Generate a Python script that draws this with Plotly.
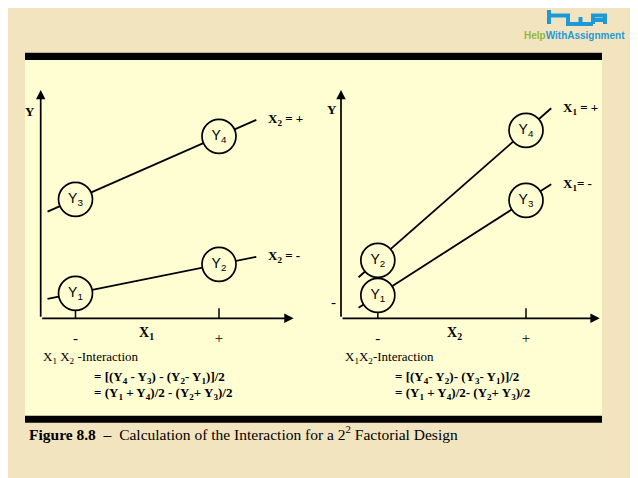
import plotly.graph_objects as go

# Factor levels on the horizontal axes
levels = [-1, 1]
level_text = ['-', '+']

# Left drawing: X1 along the axis, one line per X2 level
left_minus = [25, 54]     # Y1, Y2  (X2 = -)
left_plus = [119, 182]    # Y3, Y4  (X2 = +)
left_minus_names = ['Y<sub>1</sub>', 'Y<sub>2</sub>']
left_plus_names = ['Y<sub>3</sub>', 'Y<sub>4</sub>']

# Right drawing: X2 along the axis, one line per X1 level
right_minus = [23, 118]   # Y1, Y3  (X1 = -)
right_plus = [58, 188]    # Y2, Y4  (X1 = +)
right_minus_names = ['Y<sub>1</sub>', 'Y<sub>3</sub>']
right_plus_names = ['Y<sub>2</sub>', 'Y<sub>4</sub>']

# the page body has an 8px margin, so the figure is a bit smaller and everything shifts
OFF = 8
W, H = 638 - OFF, 478 - OFF
PANEL = '#fffdd2'
OUTER = '#f2e4bf'


def X(p):
    return (p - OFF) / W


def Y(p):
    return 1 - (p - OFF) / H


def extend(ys, lo, hi):
    # carry the line a little past both points, like the hand drawing
    slope = (ys[1] - ys[0]) / 2
    return [-1 - lo, 1 + hi], [ys[0] - slope * lo, ys[1] + slope * hi]


fig = go.Figure()

panels = [
    ('x', 'y', left_minus, left_plus, left_minus_names, left_plus_names, 0.39, 0.52,
     'X<sub>2</sub> = -', 'X<sub>2</sub> = +'),
    ('x2', 'y2', right_minus, right_plus, right_minus_names, right_plus_names, 0.26, 0.34,
     'X<sub>1</sub>= -', 'X<sub>1</sub> = +'),
]

annotations = []
shapes = [dict(type='rect', xref='paper', yref='paper', x0=X(25), x1=X(602), y0=Y(422.7), y1=Y(52.7),
               fillcolor=PANEL, line_width=0, layer='below'),
          dict(type='rect', xref='paper', yref='paper', x0=X(25), x1=X(602), y0=Y(60), y1=Y(52.7),
               fillcolor='black', line_width=0, layer='below'),
          dict(type='rect', xref='paper', yref='paper', x0=X(25), x1=X(602), y0=Y(422.7), y1=Y(415.7),
               fillcolor='black', line_width=0, layer='below')]

for xa, ya, lo_vals, hi_vals, lo_names, hi_names, e_lo, e_hi, lo_lab, hi_lab in panels:
    for vals, names, lab in [(lo_vals, lo_names, lo_lab), (hi_vals, hi_names, hi_lab)]:
        lx, ly = extend(vals, e_lo, e_hi)
        fig.add_trace(go.Scatter(x=lx, y=ly, mode='lines', xaxis=xa, yaxis=ya,
                                 line=dict(color='black', width=1.8), hoverinfo='skip'))
        fig.add_trace(go.Scatter(x=levels, y=vals, mode='markers+text', xaxis=xa, yaxis=ya,
                                 text=names, textposition='middle center',
                                 textfont=dict(family='Liberation Sans', size=14, color='black'),
                                 marker=dict(size=34, color=PANEL, line=dict(color='black', width=1.7)),
                                 hoverinfo='skip'))
        annotations.append(dict(x=lx[1], y=ly[1], xref=xa, yref=ya, text='<b>' + lab + '</b>',
                                showarrow=False, xanchor='left', yanchor='middle', xshift=10,
                                font=dict(family='Liberation Serif', size=13, color='black')))
    for lv in levels:
        shapes.append(dict(type='line', xref=xa, yref=ya, x0=lv, x1=lv, y0=-7, y1=10,
                           line=dict(color='black', width=1.5), layer='below'))

axis_common = dict(showgrid=False, zeroline=False, showline=False, fixedrange=True)
tick_font = dict(family='Liberation Serif', size=15, color='black')
fig.update_layout(
    xaxis=dict(domain=[X(40.7), X(300)], range=[-1.485, 2.129], anchor='y',
               tickvals=levels, ticktext=level_text, ticks='', ticklabelstandoff=9,
               tickfont=tick_font, **axis_common),
    yaxis=dict(domain=[Y(318.3), Y(85)], range=[0, 233.3], anchor='x',
               showticklabels=False, **axis_common),
    xaxis2=dict(domain=[X(341), X(605)], range=[-1.497, 2.066], anchor='y2',
                tickvals=levels, ticktext=level_text, ticks='', ticklabelstandoff=9,
                tickfont=tick_font, **axis_common),
    yaxis2=dict(domain=[Y(318.3), Y(85)], range=[0, 233.3], anchor='x2',
                tickvals=[17], ticktext=['-'], ticks='', ticklabelstandoff=4,
                tickfont=tick_font, **axis_common),
)

# axis arrows
for xa, ya, x0, x1 in [('x', 'y', -1.485, 2.04), ('x2', 'y2', -1.497, 1.995)]:
    annotations.append(dict(x=x1, y=0, ax=x0, ay=0, xref=xa, yref=ya, axref=xa, ayref=ya, text='',
                            showarrow=True, arrowhead=2, arrowsize=1.1, arrowwidth=1.7, arrowcolor='black'))
    annotations.append(dict(x=x0, y=228.3, ax=x0, ay=0, xref=xa, yref=ya, axref=xa, ayref=ya, text='',
                            showarrow=True, arrowhead=2, arrowsize=1.1, arrowwidth=1.7, arrowcolor='black'))


def note(px, py, text, size=13, family='Liberation Serif', xanchor='left', color='black'):
    annotations.append(dict(x=X(px), y=Y(py), xref='paper', yref='paper', text=text, showarrow=False,
                            xanchor=xanchor, yanchor='middle', font=dict(family=family, size=size, color=color)))


note(30, 111, '<b>Y</b>', xanchor='center')
note(332, 110, '<b>Y</b>', xanchor='center')
note(146, 333, '<b>X<sub>1</sub></b>', size=14, xanchor='center')
note(454, 333, '<b>X<sub>2</sub></b>', size=14, xanchor='center')

note(41, 357, 'X<sub>1</sub> X<sub>2</sub> -Interaction', size=13)
note(92, 377, '<b>= [(Y<sub>4</sub> - Y<sub>3</sub>) - (Y<sub>2</sub>- Y<sub>1</sub>)]/2</b>', size=13)
note(92, 393, '<b>= (Y<sub>1</sub> + Y<sub>4</sub>)/2 - (Y<sub>2</sub>+ Y<sub>3</sub>)/2</b>', size=13)
note(343, 357, 'X<sub>1</sub>X<sub>2</sub>-Interaction', size=13)
note(393, 377, '<b>= [(Y<sub>4</sub>- Y<sub>2</sub>)- (Y<sub>3</sub>- Y<sub>1</sub>)]/2</b>', size=13)
note(393, 393, '<b>= (Y<sub>1</sub> + Y<sub>4</sub>)/2- (Y<sub>2</sub>+ Y<sub>3</sub>)/2</b>', size=13)

note(27, 433, '<b>Figure 8.8  \u2013</b>  Calculation of the Interaction for a 2<sup>2</sup> Factorial Design',
     size=15.5)

# logo
shapes.append(dict(type='path', xref='paper', yref='paper',
                   path=(f'M{X(549)},{Y(10)} L{X(549)},{Y(24)} '
                         f'M{X(549)},{Y(15.5)} L{X(568)},{Y(15.5)} L{X(568)},{Y(24)} L{X(593)},{Y(24)} '
                         f'M{X(580.5)},{Y(24)} L{X(580.5)},{Y(17)} '
                         f'M{X(593)},{Y(24)} L{X(593)},{Y(15.5)} L{X(605)},{Y(15.5)} L{X(605)},{Y(24)} '
                         f'M{X(593)},{Y(20)} L{X(605)},{Y(20)}'),
                   line=dict(color='#1c9ad8', width=4)))
note(627, 36, '<b><span style="color:#8dba3c">Help</span>WithAssignment</b>', size=10,
     family='Liberation Sans', xanchor='right', color='#1f9ad6')

fig.update_layout(width=W, height=H, margin=dict(l=0, r=0, t=0, b=0), showlegend=False,
                  paper_bgcolor=OUTER, plot_bgcolor='rgba(0,0,0,0)',
                  shapes=shapes, annotations=annotations)

fig.write_html('out.html')
